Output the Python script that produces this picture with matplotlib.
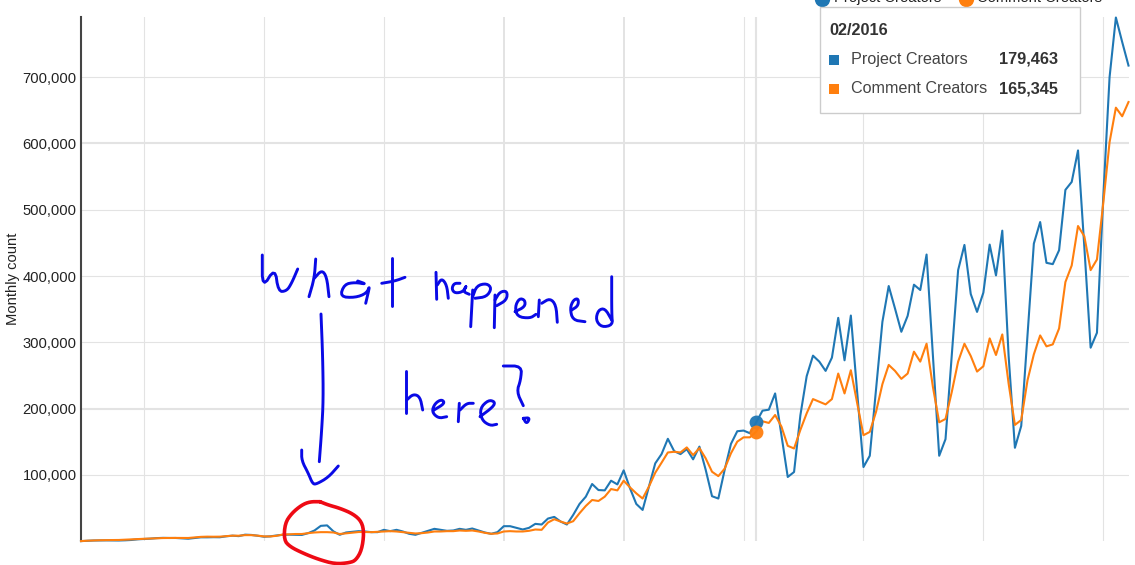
import numpy as np
import matplotlib
matplotlib.use("Agg")
import matplotlib.pyplot as plt
from matplotlib.patches import Rectangle

plt.rcParams['font.family'] = ['Liberation Sans', 'DejaVu Sans']

# monthly counts
project_creators = [
    300, 800, 1200, 1300, 1400, 1300, 1200, 1500, 2000, 3000,
    3500, 4000, 4800, 5200, 5000, 5000, 4400, 3900, 5000, 6000,
    6000, 6200, 6100, 7500, 8500, 7800, 10000, 9600, 8400, 6900,
    7500, 8800, 9800, 10000, 9800, 9600, 12300, 16300, 23300, 24000,
    15000, 9800, 13300, 14300, 15300, 14800, 13800, 13800, 17300, 15300,
    17300, 14800, 11300, 9800, 12800, 15800, 18800, 17300, 15800, 16300,
    18800, 17300, 19300, 16300, 13300, 11300, 13800, 22800, 22800, 20300,
    17800, 20300, 26300, 25300, 34300, 36800, 29800, 25300, 39800, 56300,
    67300, 86400, 77300, 76800, 91400, 85800, 107000, 80000, 56300, 47300,
    82500, 117500, 131500, 154600, 136000, 131500, 139000, 123600, 142800, 107700,
    68000, 64500, 107700, 146900, 166000, 167000, 163000, 179463, 197000, 198500,
    223000, 160000, 97000, 104500, 190000, 249000, 280000, 271000, 257000, 277000,
    337000, 273000, 340500, 225000, 112000, 129000, 230000, 331000, 385000, 351000,
    316000, 340000, 387000, 379000, 432500, 280000, 129000, 154000, 281000, 409000,
    447000, 373000, 346000, 375000, 447500, 401000, 468500, 280000, 141000, 174000,
    311000, 449000, 481500, 420000, 418000, 439000, 530000, 542000, 589500, 444000,
    292000, 314500, 519000, 700000, 790000, 753000, 717500,
]
comment_creators = [
    300, 900, 1300, 1600, 1800, 1900, 2000, 2400, 2900, 3400,
    3800, 4200, 4600, 4900, 5000, 5100, 5000, 5000, 5800, 6700,
    7000, 6900, 7000, 7800, 8500, 8400, 9300, 9300, 8500, 7400,
    7300, 8300, 10300, 10500, 11000, 11000, 12300, 13300, 13800, 13800,
    13300, 11000, 12000, 13000, 14000, 14000, 13800, 14300, 14800, 15300,
    14800, 13800, 12800, 11800, 12300, 13300, 14800, 14800, 15300, 15300,
    16300, 15800, 16300, 14800, 12800, 11300, 11800, 14800, 15300, 14800,
    14800, 15800, 17800, 17300, 28300, 33300, 29800, 26800, 30300, 42300,
    53300, 62300, 60800, 67300, 78800, 76800, 91400, 81300, 72300, 64500,
    82500, 103400, 118500, 134000, 135000, 134000, 141600, 130000, 140600, 125000,
    104900, 98300, 109500, 132700, 150300, 156800, 156800, 165345, 181000, 178500,
    190500, 173000, 144000, 140000, 168000, 193000, 214500, 210500, 206500, 214500,
    253000, 223000, 258000, 208500, 160000, 165000, 195500, 237000, 266000, 257000,
    245000, 253000, 286000, 271000, 298000, 233000, 179500, 184500, 225500, 271000,
    298000, 279500, 256000, 264000, 306000, 281000, 312000, 238000, 175500, 183000,
    243000, 282000, 310500, 294000, 297000, 321000, 391000, 416000, 475500, 460000,
    409000, 425000, 510000, 602000, 654000, 641000, 662500,
]
y_ticks = [100000, 200000, 300000, 400000, 500000, 600000, 700000]
y_label = "Monthly count"
series_names = ["Project Creators", "Comment Creators"]
tooltip_month = "02/2016"
tooltip_values = ["179,463", "165,345"]
selected_month = 107

BLUE = '#1f77b4'
ORANGE = '#ff7f0e'
GRID = '#e3e3e3'
W, H = 1135, 565

# hand drawn scribbles, in picture pixels
red_circle = [(320, 501.7), (310, 501.7), (301.7, 505), (291.7, 513.3), (285, 523.3), (284, 540),
              (290, 546.7), (303.3, 553.3), (318.3, 559.3), (335, 564), (350, 562.7), (356, 560),
              (361.7, 550), (364, 533.3), (361.7, 521.7), (353.3, 514), (340, 508.3), (328.3, 505), (320, 501.7)]
blue_strokes = [
    # What
    [(262.3, 255), (262.3, 288.3), (275, 267.7), (278.3, 291.7), (286.7, 291), (291.7, 283), (297.7, 269)],
    [(315.7, 259), (314.3, 278.3), (309, 296.7)],
    [(314.3, 278.3), (321.7, 270), (326.7, 276.7), (329, 296.7)],
    [(357.7, 281), (366.7, 284.3), (355, 282.3), (344.3, 284.3), (340, 296.7), (355, 297.7), (366.7, 293.3), (370, 285), (365.7, 303.3)],
    [(392.3, 257.7), (392.3, 305.7)],
    [(381.7, 283.3), (395, 281), (405, 277.3)],
    # happened
    [(436, 272.3), (436.7, 299.3)],
    [(437.3, 285), (441.7, 278.3), (446.7, 285), (448.3, 298.3)],
    [(460, 283.3), (454, 283.3), (451.7, 289), (455, 293.3), (463.3, 291.7), (466.7, 285), (463.3, 291.7), (469.3, 294.3)],
    [(472.7, 290), (470.7, 326.7)],
    [(472.7, 296.7), (476.7, 285.7), (486.7, 283.3), (491.7, 288.3), (486.7, 296.7), (475, 298.3)],
    [(495, 295), (494.3, 327.7)],
    [(495, 300), (500, 291.7), (507.3, 291), (506.7, 300), (496.7, 305.7)],
    [(515, 311.7), (525, 306.7), (525, 300), (519.3, 298.3), (515, 306.7), (517.3, 316.7), (530, 318.3), (536, 314.3)],
    [(539.3, 300), (538.3, 316.7)],
    [(541.7, 303.3), (550, 298.3), (556, 305), (557.3, 322.3)],
    [(571.7, 310), (578.3, 305.7), (578.3, 298.3), (573.3, 300), (570, 308.3), (572.7, 320), (585, 321.7)],
    [(611.7, 276.7), (611.7, 315), (612.7, 325), (601.7, 327.3), (595.7, 320), (598.3, 310), (605, 308.3), (611.7, 320)],
    # arrow
    [(321, 314), (322.7, 356.7), (323.3, 400), (321.7, 430), (319.3, 461.7)],
    [(301.7, 450), (301.7, 460.7), (308.3, 473.3), (312.7, 484), (316.7, 484), (328.3, 477.3), (338.3, 466)],
    # here?
    [(406, 371), (406, 412.7)],
    [(406.7, 400), (413.3, 394), (420, 396.7), (422.7, 410)],
    [(434, 410), (445, 403.3), (441.7, 399.3), (435, 403.3), (431.7, 411.7), (438.3, 418.3), (446.7, 416.7)],
    [(459.3, 403.3), (458.3, 421.7)],
    [(460, 410), (466.7, 403.3), (473.3, 403.3)],
    [(480, 416.7), (493.3, 406.7), (495, 401.7), (488.3, 400), (480, 408.3), (481.7, 420), (490, 425.7), (496.7, 424.3)],
    [(503.3, 366), (521.7, 366), (520.7, 380), (516.7, 391.7), (523.3, 405.7)],
    [(523.3, 418.3), (530, 417.7), (526.7, 424), (523.3, 418.3)],
]


def soften(points, rounds=2):
    # corner cutting, so the scribbles look less like polygons
    pts = np.array(points, dtype=float)
    for _ in range(rounds):
        q = 0.75 * pts[:-1] + 0.25 * pts[1:]
        r = 0.25 * pts[:-1] + 0.75 * pts[1:]
        mid = np.empty((2 * len(q), 2))
        mid[0::2] = q
        mid[1::2] = r
        pts = np.vstack([pts[0], mid, pts[-1]])
    return pts


months = np.arange(len(project_creators))

fig = plt.figure(figsize=(W / 100, H / 100), dpi=100)
ax = fig.add_axes([81 / W, 1 - 541.3 / H, (1128.5 - 81) / W, (541.3 - 16.5) / H])
ax.set_xlim(0, months[-1])
ax.set_ylim(0, 791500)

for s in ['top', 'right', 'bottom']:
    ax.spines[s].set_visible(False)
ax.spines['left'].set_color('#444444')
ax.spines['left'].set_linewidth(1.5)

# some grid lines land on two pixels in the original
thick_y = [200000, 600000]
for v in y_ticks:
    ax.axhline(v, color=GRID, lw=1.5 if v in thick_y else 0.8, zorder=1)
for m in range(10, months[-1], 19):
    ax.axvline(m, color=GRID, lw=1.4 if m in (67, 86) else 0.8, zorder=1)
ax.axvline(selected_month, color=GRID, lw=1.5, zorder=1)

ax.plot(months, project_creators, color=BLUE, lw=1.5, zorder=3, clip_on=False)
ax.plot(months, comment_creators, color=ORANGE, lw=1.5, zorder=3, clip_on=False)
ax.plot(selected_month, project_creators[selected_month], 'o', color=BLUE, ms=10, mew=0, zorder=4, alpha=0.95)
ax.plot(selected_month, comment_creators[selected_month], 'o', color=ORANGE, ms=10, mew=0, zorder=5, alpha=0.95)

ax.set_xticks([])
ax.set_yticks(y_ticks)
ax.set_yticklabels([f"{v:,}" for v in y_ticks], fontsize=10.6, color='#222222')
ax.tick_params(axis='y', length=0, pad=3)
fig.text(13.5 / W, 1 - 279 / H, y_label, rotation=90, ha='center', va='center', fontsize=10.6, color='#222222')

# overlay in picture pixels for tooltip, cut off legend and scribbles
over = fig.add_axes([0, 0, 1, 1], facecolor='none')
over.set_xlim(0, W)
over.set_ylim(H, 0)
over.axis('off')

over.plot([822], [-1], 'o', ms=11, mew=0, color=BLUE, zorder=2, clip_on=True)
over.plot([966], [-1], 'o', ms=11, mew=0, color=ORANGE, zorder=2, clip_on=True)
over.text(834, 2, series_names[0], fontsize=10.6, color='#222222', va='baseline')
over.text(977, 2, series_names[1], fontsize=10.6, color='#222222', va='baseline')

over.add_patch(Rectangle((819.5, 6.5), 260, 106, fc='white', ec='#cccccc', lw=1, zorder=6))
over.text(829, 30.5, tooltip_month, fontsize=11.7, fontweight='bold', color='#333333', va='center', zorder=7)
for name, val, col, yy in zip(series_names, tooltip_values, [BLUE, ORANGE], [59.5, 88.5]):
    over.add_patch(Rectangle((829, yy - 5), 10, 10, fc=col, ec='none', zorder=7))
    over.text(851, yy, name, fontsize=11.6, color='#444444', va='center', zorder=7)
    over.text(1058, yy, val, fontsize=11.7, fontweight='bold', color='#333333', va='center', ha='right', zorder=7)

c = soften(red_circle)
over.plot(c[:, 0], c[:, 1], color='#ee0a14', lw=2.6, solid_capstyle='round', solid_joinstyle='round', zorder=8)
for stroke in blue_strokes:
    st = soften(stroke)
    over.plot(st[:, 0], st[:, 1], color='#0a0ae6', lw=2.1, solid_capstyle='round', solid_joinstyle='round', zorder=8)

fig.savefig('out.png', dpi=100)
